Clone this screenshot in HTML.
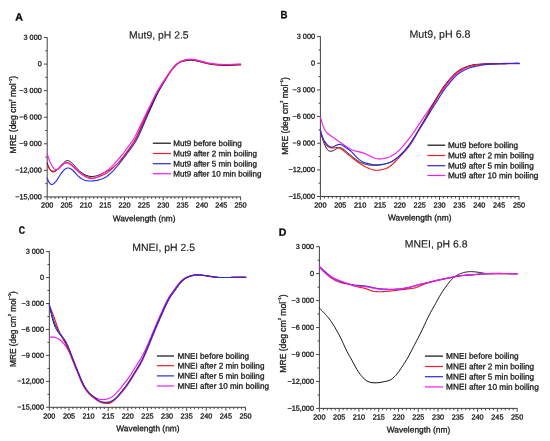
<!DOCTYPE html>
<html lang="en"><head><meta charset="utf-8"><title>CD spectra</title>
<style>html,body{margin:0;padding:0;background:#fff}svg{display:block}</style></head>
<body>
<svg width="550" height="441" viewBox="0 0 550 441" font-family="'Liberation Sans', sans-serif">
<rect width="550" height="441" fill="#ffffff"/>
<style>text{stroke:#1a1a1a;stroke-width:0.3px;stroke-linejoin:round}</style>
<g><path d="M47.20 37.24 V196.90 H240.90" fill="none" stroke="#383838" stroke-width="0.95"/>
<path d="M47.20 37.54 h-3.4 M47.20 50.82 h-1.9 M47.20 64.10 h-3.4 M47.20 77.38 h-1.9 M47.20 90.66 h-3.4 M47.20 103.94 h-1.9 M47.20 117.22 h-3.4 M47.20 130.50 h-1.9 M47.20 143.78 h-3.4 M47.20 157.06 h-1.9 M47.20 170.34 h-3.4 M47.20 183.62 h-1.9 M47.20 196.90 h-3.4 M47.20 196.90 v3.4 M51.07 196.90 v1.9 M54.94 196.90 v1.9 M58.80 196.90 v1.9 M62.67 196.90 v1.9 M66.54 196.90 v3.4 M70.41 196.90 v1.9 M74.28 196.90 v1.9 M78.14 196.90 v1.9 M82.01 196.90 v1.9 M85.88 196.90 v3.4 M89.75 196.90 v1.9 M93.62 196.90 v1.9 M97.48 196.90 v1.9 M101.35 196.90 v1.9 M105.22 196.90 v3.4 M109.09 196.90 v1.9 M112.96 196.90 v1.9 M116.82 196.90 v1.9 M120.69 196.90 v1.9 M124.56 196.90 v3.4 M128.43 196.90 v1.9 M132.30 196.90 v1.9 M136.16 196.90 v1.9 M140.03 196.90 v1.9 M143.90 196.90 v3.4 M147.77 196.90 v1.9 M151.64 196.90 v1.9 M155.50 196.90 v1.9 M159.37 196.90 v1.9 M163.24 196.90 v3.4 M167.11 196.90 v1.9 M170.98 196.90 v1.9 M174.84 196.90 v1.9 M178.71 196.90 v1.9 M182.58 196.90 v3.4 M186.45 196.90 v1.9 M190.32 196.90 v1.9 M194.18 196.90 v1.9 M198.05 196.90 v1.9 M201.92 196.90 v3.4 M205.79 196.90 v1.9 M209.66 196.90 v1.9 M213.52 196.90 v1.9 M217.39 196.90 v1.9 M221.26 196.90 v3.4 M225.13 196.90 v1.9 M229.00 196.90 v1.9 M232.86 196.90 v1.9 M236.73 196.90 v1.9 M240.60 196.90 v3.4 " fill="none" stroke="#383838" stroke-width="0.9"/>
<text transform="translate(41.80 39.79) rotate(0.05)" font-size="7.3" text-anchor="end" fill="#1a1a1a">3 000</text>
<text transform="translate(41.80 66.35) rotate(0.05)" font-size="7.3" text-anchor="end" fill="#1a1a1a">0</text>
<text transform="translate(41.80 92.91) rotate(0.05)" font-size="7.3" text-anchor="end" fill="#1a1a1a">−3 000</text>
<text transform="translate(41.80 119.47) rotate(0.05)" font-size="7.3" text-anchor="end" fill="#1a1a1a">−6 000</text>
<text transform="translate(41.80 146.03) rotate(0.05)" font-size="7.3" text-anchor="end" fill="#1a1a1a">−9 000</text>
<text transform="translate(41.80 172.59) rotate(0.05)" font-size="7.3" text-anchor="end" fill="#1a1a1a">−12,000</text>
<text transform="translate(41.80 199.15) rotate(0.05)" font-size="7.3" text-anchor="end" fill="#1a1a1a">−15,000</text>
<text transform="translate(47.20 207.60) rotate(0.05)" font-size="7.3" text-anchor="middle" fill="#1a1a1a">200</text>
<text transform="translate(66.54 207.60) rotate(0.05)" font-size="7.3" text-anchor="middle" fill="#1a1a1a">205</text>
<text transform="translate(85.88 207.60) rotate(0.05)" font-size="7.3" text-anchor="middle" fill="#1a1a1a">210</text>
<text transform="translate(105.22 207.60) rotate(0.05)" font-size="7.3" text-anchor="middle" fill="#1a1a1a">215</text>
<text transform="translate(124.56 207.60) rotate(0.05)" font-size="7.3" text-anchor="middle" fill="#1a1a1a">220</text>
<text transform="translate(143.90 207.60) rotate(0.05)" font-size="7.3" text-anchor="middle" fill="#1a1a1a">225</text>
<text transform="translate(163.24 207.60) rotate(0.05)" font-size="7.3" text-anchor="middle" fill="#1a1a1a">230</text>
<text transform="translate(182.58 207.60) rotate(0.05)" font-size="7.3" text-anchor="middle" fill="#1a1a1a">235</text>
<text transform="translate(201.92 207.60) rotate(0.05)" font-size="7.3" text-anchor="middle" fill="#1a1a1a">240</text>
<text transform="translate(221.26 207.60) rotate(0.05)" font-size="7.3" text-anchor="middle" fill="#1a1a1a">245</text>
<text transform="translate(240.60 207.60) rotate(0.05)" font-size="7.3" text-anchor="middle" fill="#1a1a1a">250</text>
<text transform="translate(144.10 221.20) rotate(0.05)" font-size="8.3" text-anchor="middle" fill="#1a1a1a">Wavelength (nm)</text>
<text transform="translate(16.4 114.7) rotate(-90)" font-size="8.5" text-anchor="middle" fill="#1a1a1a">MRE (deg cm<tspan font-size="3.9" dy="-4.9">2</tspan><tspan dy="4.9"> mol</tspan><tspan font-size="3.9" dy="-4.9">−1</tspan><tspan dy="4.9">)</tspan></text>
<text transform="translate(129.10 38.50) rotate(0.05)" font-size="10.4" fill="#1a1a1a" style="stroke-width:0.14px">Mut9, pH 2.5</text>
<text transform="translate(15.2 20.5) rotate(0.05) scale(1.0 1)" font-size="10.6" font-weight="bold" fill="#000">A</text>
<path d="M47.20 178.00 L48.17 180.39 L49.14 182.40 L50.12 183.71 L51.09 184.36 L52.06 184.48 L53.03 184.15 L54.00 183.46 L54.97 182.50 L55.95 181.31 L56.92 179.97 L57.89 178.51 L58.86 177.00 L59.83 175.48 L60.81 174.01 L61.78 172.62 L62.75 171.36 L63.72 170.27 L64.69 169.37 L65.67 168.68 L66.64 168.22 L67.61 167.99 L68.58 168.00 L69.55 168.23 L70.52 168.67 L71.50 169.30 L72.47 170.09 L73.44 171.01 L74.41 172.02 L75.38 173.07 L76.36 174.12 L77.33 175.13 L78.30 176.08 L79.27 176.95 L80.24 177.74 L81.22 178.44 L82.19 179.06 L83.16 179.58 L84.13 180.00 L85.10 180.33 L86.07 180.59 L87.05 180.77 L88.02 180.89 L88.99 180.97 L89.96 181.00 L90.93 181.00 L91.91 180.97 L92.88 180.90 L93.85 180.81 L94.82 180.69 L95.79 180.53 L96.76 180.35 L97.74 180.14 L98.71 179.89 L99.68 179.62 L100.65 179.32 L101.62 178.99 L102.60 178.62 L103.57 178.21 L104.54 177.76 L105.51 177.24 L106.48 176.65 L107.46 175.98 L108.43 175.22 L109.40 174.40 L110.37 173.51 L111.34 172.58 L112.31 171.60 L113.29 170.59 L114.26 169.54 L115.23 168.47 L116.20 167.38 L117.17 166.25 L118.15 165.09 L119.12 163.90 L120.09 162.68 L121.06 161.44 L122.03 160.18 L123.01 158.91 L123.98 157.63 L124.95 156.34 L125.92 155.05 L126.89 153.76 L127.86 152.46 L128.84 151.16 L129.81 149.86 L130.78 148.55 L131.75 147.24 L132.72 145.88 L133.70 144.47 L134.67 142.99 L135.64 141.41 L136.61 139.72 L137.58 137.89 L138.55 135.92 L139.53 133.84 L140.50 131.68 L141.47 129.46 L142.44 127.21 L143.41 124.96 L144.39 122.70 L145.36 120.45 L146.33 118.21 L147.30 115.99 L148.27 113.79 L149.25 111.61 L150.22 109.45 L151.19 107.30 L152.16 105.15 L153.13 103.00 L154.10 100.84 L155.08 98.69 L156.05 96.57 L157.02 94.53 L157.99 92.57 L158.96 90.74 L159.94 89.03 L160.91 87.40 L161.88 85.79 L162.85 84.16 L163.82 82.52 L164.79 80.88 L165.77 79.24 L166.74 77.62 L167.71 76.04 L168.68 74.49 L169.65 72.99 L170.63 71.55 L171.60 70.17 L172.57 68.87 L173.54 67.65 L174.51 66.52 L175.49 65.48 L176.46 64.55 L177.43 63.72 L178.40 63.00 L179.37 62.39 L180.34 61.89 L181.32 61.46 L182.29 61.11 L183.26 60.81 L184.23 60.55 L185.20 60.32 L186.18 60.12 L187.15 59.95 L188.12 59.82 L189.09 59.73 L190.06 59.69 L191.04 59.69 L192.01 59.74 L192.98 59.82 L193.95 59.94 L194.92 60.10 L195.89 60.28 L196.87 60.48 L197.84 60.71 L198.81 60.96 L199.78 61.21 L200.75 61.48 L201.73 61.74 L202.70 62.01 L203.67 62.27 L204.64 62.53 L205.61 62.77 L206.58 63.00 L207.56 63.22 L208.53 63.42 L209.50 63.61 L210.47 63.78 L211.44 63.93 L212.42 64.06 L213.39 64.18 L214.36 64.29 L215.33 64.38 L216.30 64.46 L217.28 64.53 L218.25 64.60 L219.22 64.66 L220.19 64.72 L221.16 64.78 L222.13 64.83 L223.11 64.87 L224.08 64.90 L225.05 64.93 L226.02 64.94 L226.99 64.95 L227.97 64.94 L228.94 64.92 L229.91 64.89 L230.88 64.85 L231.85 64.80 L232.83 64.75 L233.80 64.69 L234.77 64.63 L235.74 64.58 L236.71 64.54 L237.68 64.50 L238.66 64.46 L239.63 64.43 L240.60 64.40" fill="none" stroke="#2a2adf" stroke-width="1.15" stroke-linejoin="round" stroke-linecap="round"/>
<path d="M47.20 163.00 L48.17 165.50 L49.14 167.77 L50.12 169.59 L51.09 170.87 L52.06 171.66 L53.03 171.99 L54.00 171.92 L54.97 171.51 L55.95 170.86 L56.92 170.02 L57.89 169.07 L58.86 168.02 L59.83 166.92 L60.81 165.80 L61.78 164.68 L62.75 163.61 L63.72 162.63 L64.69 161.79 L65.67 161.13 L66.64 160.72 L67.61 160.58 L68.58 160.74 L69.55 161.15 L70.52 161.77 L71.50 162.55 L72.47 163.47 L73.44 164.47 L74.41 165.53 L75.38 166.62 L76.36 167.71 L77.33 168.78 L78.30 169.80 L79.27 170.74 L80.24 171.60 L81.22 172.38 L82.19 173.09 L83.16 173.73 L84.13 174.30 L85.10 174.81 L86.07 175.25 L87.05 175.63 L88.02 175.94 L88.99 176.18 L89.96 176.36 L90.93 176.47 L91.91 176.50 L92.88 176.46 L93.85 176.36 L94.82 176.19 L95.79 175.97 L96.76 175.71 L97.74 175.40 L98.71 175.05 L99.68 174.67 L100.65 174.28 L101.62 173.86 L102.60 173.43 L103.57 172.99 L104.54 172.53 L105.51 172.06 L106.48 171.57 L107.46 171.06 L108.43 170.53 L109.40 169.98 L110.37 169.39 L111.34 168.76 L112.31 168.08 L113.29 167.35 L114.26 166.56 L115.23 165.71 L116.20 164.81 L117.17 163.86 L118.15 162.86 L119.12 161.82 L120.09 160.72 L121.06 159.59 L122.03 158.41 L123.01 157.19 L123.98 155.93 L124.95 154.63 L125.92 153.31 L126.89 151.96 L127.86 150.60 L128.84 149.23 L129.81 147.87 L130.78 146.50 L131.75 145.12 L132.72 143.70 L133.70 142.21 L134.67 140.65 L135.64 138.98 L136.61 137.18 L137.58 135.28 L138.55 133.28 L139.53 131.22 L140.50 129.11 L141.47 126.97 L142.44 124.84 L143.41 122.70 L144.39 120.57 L145.36 118.46 L146.33 116.36 L147.30 114.28 L148.27 112.22 L149.25 110.18 L150.22 108.15 L151.19 106.11 L152.16 104.06 L153.13 101.99 L154.10 99.90 L155.08 97.82 L156.05 95.78 L157.02 93.81 L157.99 91.93 L158.96 90.17 L159.94 88.51 L160.91 86.91 L161.88 85.32 L162.85 83.71 L163.82 82.08 L164.79 80.46 L165.77 78.85 L166.74 77.26 L167.71 75.71 L168.68 74.20 L169.65 72.74 L170.63 71.34 L171.60 69.99 L172.57 68.71 L173.54 67.51 L174.51 66.38 L175.49 65.36 L176.46 64.43 L177.43 63.63 L178.40 62.97 L179.37 62.44 L180.34 62.03 L181.32 61.71 L182.29 61.46 L183.26 61.25 L184.23 61.06 L185.20 60.86 L186.18 60.67 L187.15 60.50 L188.12 60.35 L189.09 60.24 L190.06 60.18 L191.04 60.18 L192.01 60.22 L192.98 60.31 L193.95 60.43 L194.92 60.59 L195.89 60.78 L196.87 60.99 L197.84 61.22 L198.81 61.46 L199.78 61.72 L200.75 61.98 L201.73 62.24 L202.70 62.51 L203.67 62.77 L204.64 63.03 L205.61 63.27 L206.58 63.50 L207.56 63.72 L208.53 63.92 L209.50 64.11 L210.47 64.28 L211.44 64.43 L212.42 64.56 L213.39 64.68 L214.36 64.79 L215.33 64.88 L216.30 64.96 L217.28 65.03 L218.25 65.10 L219.22 65.16 L220.19 65.22 L221.16 65.28 L222.13 65.33 L223.11 65.37 L224.08 65.40 L225.05 65.43 L226.02 65.44 L226.99 65.45 L227.97 65.44 L228.94 65.42 L229.91 65.39 L230.88 65.35 L231.85 65.30 L232.83 65.25 L233.80 65.19 L234.77 65.13 L235.74 65.08 L236.71 65.04 L237.68 65.00 L238.66 64.96 L239.63 64.93 L240.60 64.90" fill="none" stroke="#111111" stroke-width="1.0" stroke-linejoin="round" stroke-linecap="round"/>
<path d="M47.20 165.00 L48.17 166.86 L49.14 168.50 L50.12 169.71 L51.09 170.48 L52.06 170.88 L53.03 171.01 L54.00 170.95 L54.97 170.75 L55.95 170.40 L56.92 169.89 L57.89 169.21 L58.86 168.37 L59.83 167.45 L60.81 166.48 L61.78 165.53 L62.75 164.65 L63.72 163.88 L64.69 163.25 L65.67 162.81 L66.64 162.58 L67.61 162.60 L68.58 162.84 L69.55 163.27 L70.52 163.86 L71.50 164.58 L72.47 165.41 L73.44 166.31 L74.41 167.27 L75.38 168.25 L76.36 169.23 L77.33 170.20 L78.30 171.12 L79.27 171.97 L80.24 172.76 L81.22 173.48 L82.19 174.14 L83.16 174.74 L84.13 175.29 L85.10 175.80 L86.07 176.27 L87.05 176.70 L88.02 177.08 L88.99 177.40 L89.96 177.66 L90.93 177.85 L91.91 177.97 L92.88 178.00 L93.85 177.95 L94.82 177.82 L95.79 177.62 L96.76 177.36 L97.74 177.06 L98.71 176.72 L99.68 176.35 L100.65 175.96 L101.62 175.57 L102.60 175.17 L103.57 174.76 L104.54 174.30 L105.51 173.80 L106.48 173.23 L107.46 172.58 L108.43 171.85 L109.40 171.06 L110.37 170.21 L111.34 169.34 L112.31 168.45 L113.29 167.57 L114.26 166.68 L115.23 165.79 L116.20 164.88 L117.17 163.94 L118.15 162.96 L119.12 161.93 L120.09 160.84 L121.06 159.70 L122.03 158.52 L123.01 157.29 L123.98 156.03 L124.95 154.73 L125.92 153.41 L126.89 152.06 L127.86 150.70 L128.84 149.33 L129.81 147.97 L130.78 146.59 L131.75 145.19 L132.72 143.73 L133.70 142.18 L134.67 140.52 L135.64 138.72 L136.61 136.75 L137.58 134.66 L138.55 132.46 L139.53 130.21 L140.50 127.93 L141.47 125.67 L142.44 123.43 L143.41 121.21 L144.39 119.01 L145.36 116.83 L146.33 114.67 L147.30 112.52 L148.27 110.39 L149.25 108.28 L150.22 106.18 L151.19 104.09 L152.16 102.01 L153.13 99.95 L154.10 97.92 L155.08 95.94 L156.05 94.04 L157.02 92.23 L157.99 90.52 L158.96 88.91 L159.94 87.36 L160.91 85.83 L161.88 84.29 L162.85 82.73 L163.82 81.17 L164.79 79.61 L165.77 78.07 L166.74 76.56 L167.71 75.08 L168.68 73.64 L169.65 72.25 L170.63 70.91 L171.60 69.63 L172.57 68.42 L173.54 67.27 L174.51 66.21 L175.49 65.24 L176.46 64.36 L177.43 63.58 L178.40 62.90 L179.37 62.34 L180.34 61.87 L181.32 61.48 L182.29 61.16 L183.26 60.88 L184.23 60.64 L185.20 60.42 L186.18 60.22 L187.15 60.05 L188.12 59.92 L189.09 59.83 L190.06 59.79 L191.04 59.79 L192.01 59.84 L192.98 59.92 L193.95 60.04 L194.92 60.19 L195.89 60.38 L196.87 60.59 L197.84 60.81 L198.81 61.06 L199.78 61.31 L200.75 61.58 L201.73 61.84 L202.70 62.11 L203.67 62.37 L204.64 62.63 L205.61 62.87 L206.58 63.10 L207.56 63.32 L208.53 63.52 L209.50 63.71 L210.47 63.88 L211.44 64.03 L212.42 64.16 L213.39 64.28 L214.36 64.39 L215.33 64.48 L216.30 64.56 L217.28 64.63 L218.25 64.70 L219.22 64.76 L220.19 64.82 L221.16 64.88 L222.13 64.93 L223.11 64.97 L224.08 65.00 L225.05 65.03 L226.02 65.04 L226.99 65.05 L227.97 65.04 L228.94 65.02 L229.91 64.99 L230.88 64.95 L231.85 64.90 L232.83 64.85 L233.80 64.79 L234.77 64.73 L235.74 64.68 L236.71 64.64 L237.68 64.60 L238.66 64.56 L239.63 64.53 L240.60 64.50" fill="none" stroke="#ee1c25" stroke-width="1.15" stroke-linejoin="round" stroke-linecap="round"/>
<path d="M47.20 154.00 L48.17 156.84 L49.14 159.55 L50.12 162.02 L51.09 164.16 L52.06 165.98 L53.03 167.47 L54.00 168.60 L54.97 169.34 L55.95 169.63 L56.92 169.48 L57.89 168.99 L58.86 168.25 L59.83 167.37 L60.81 166.45 L61.78 165.53 L62.75 164.67 L63.72 163.93 L64.69 163.36 L65.67 163.01 L66.64 162.92 L67.61 163.08 L68.58 163.44 L69.55 163.97 L70.52 164.64 L71.50 165.40 L72.47 166.22 L73.44 167.09 L74.41 167.99 L75.38 168.91 L76.36 169.83 L77.33 170.74 L78.30 171.62 L79.27 172.47 L80.24 173.27 L81.22 174.03 L82.19 174.73 L83.16 175.39 L84.13 175.99 L85.10 176.54 L86.07 177.04 L87.05 177.47 L88.02 177.83 L88.99 178.13 L89.96 178.35 L90.93 178.48 L91.91 178.53 L92.88 178.48 L93.85 178.33 L94.82 178.08 L95.79 177.73 L96.76 177.30 L97.74 176.80 L98.71 176.24 L99.68 175.65 L100.65 175.02 L101.62 174.39 L102.60 173.74 L103.57 173.09 L104.54 172.41 L105.51 171.72 L106.48 171.00 L107.46 170.24 L108.43 169.45 L109.40 168.62 L110.37 167.75 L111.34 166.84 L112.31 165.89 L113.29 164.89 L114.26 163.85 L115.23 162.79 L116.20 161.69 L117.17 160.59 L118.15 159.48 L119.12 158.37 L120.09 157.25 L121.06 156.12 L122.03 154.97 L123.01 153.77 L123.98 152.53 L124.95 151.23 L125.92 149.89 L126.89 148.53 L127.86 147.16 L128.84 145.80 L129.81 144.47 L130.78 143.16 L131.75 141.82 L132.72 140.41 L133.70 138.89 L134.67 137.23 L135.64 135.42 L136.61 133.51 L137.58 131.51 L138.55 129.47 L139.53 127.40 L140.50 125.34 L141.47 123.29 L142.44 121.25 L143.41 119.22 L144.39 117.21 L145.36 115.21 L146.33 113.23 L147.30 111.27 L148.27 109.31 L149.25 107.35 L150.22 105.39 L151.19 103.42 L152.16 101.45 L153.13 99.47 L154.10 97.50 L155.08 95.58 L156.05 93.71 L157.02 91.93 L157.99 90.24 L158.96 88.64 L159.94 87.11 L160.91 85.61 L161.88 84.13 L162.85 82.66 L163.82 81.20 L164.79 79.76 L165.77 78.33 L166.74 76.91 L167.71 75.51 L168.68 74.13 L169.65 72.77 L170.63 71.46 L171.60 70.19 L172.57 68.97 L173.54 67.82 L174.51 66.74 L175.49 65.73 L176.46 64.79 L177.43 63.94 L178.40 63.16 L179.37 62.47 L180.34 61.87 L181.32 61.34 L182.29 60.88 L183.26 60.50 L184.23 60.17 L185.20 59.90 L186.18 59.68 L187.15 59.51 L188.12 59.40 L189.09 59.32 L190.06 59.29 L191.04 59.30 L192.01 59.35 L192.98 59.43 L193.95 59.55 L194.92 59.70 L195.89 59.88 L196.87 60.08 L197.84 60.31 L198.81 60.56 L199.78 60.81 L200.75 61.08 L201.73 61.34 L202.70 61.61 L203.67 61.87 L204.64 62.13 L205.61 62.37 L206.58 62.61 L207.56 62.82 L208.53 63.02 L209.50 63.21 L210.47 63.38 L211.44 63.53 L212.42 63.66 L213.39 63.78 L214.36 63.89 L215.33 63.98 L216.30 64.06 L217.28 64.13 L218.25 64.20 L219.22 64.26 L220.19 64.32 L221.16 64.38 L222.13 64.43 L223.11 64.47 L224.08 64.50 L225.05 64.53 L226.02 64.54 L226.99 64.55 L227.97 64.54 L228.94 64.52 L229.91 64.49 L230.88 64.45 L231.85 64.40 L232.83 64.35 L233.80 64.29 L234.77 64.23 L235.74 64.18 L236.71 64.14 L237.68 64.10 L238.66 64.06 L239.63 64.03 L240.60 64.00" fill="none" stroke="#f01cf0" stroke-width="1.15" stroke-linejoin="round" stroke-linecap="round"/>
<path d="M152.8 143.2 H170.9" stroke="#111111" stroke-width="1.2"/>
<text transform="translate(173.30 145.90) rotate(0.05)" font-size="8.05" fill="#1a1a1a">Mut9 before boiling</text>
<path d="M152.8 153.5 H170.9" stroke="#ee1c25" stroke-width="1.2"/>
<text transform="translate(173.30 156.20) rotate(0.05)" font-size="8.05" fill="#1a1a1a">Mut9 after 2 min boiling</text>
<path d="M152.8 163.7 H170.9" stroke="#2a2adf" stroke-width="1.2"/>
<text transform="translate(173.30 166.40) rotate(0.05)" font-size="8.05" fill="#1a1a1a">Mut9 after 5 min boiling</text>
<path d="M152.8 173.7 H170.9" stroke="#f01cf0" stroke-width="1.2"/>
<text transform="translate(173.30 176.40) rotate(0.05)" font-size="8.05" fill="#1a1a1a">Mut9 after 10 min boiling</text></g>
<g><path d="M320.40 36.30 V196.50 H519.30" fill="none" stroke="#383838" stroke-width="0.95"/>
<path d="M320.40 36.60 h-3.4 M320.40 49.92 h-1.9 M320.40 63.25 h-3.4 M320.40 76.58 h-1.9 M320.40 89.90 h-3.4 M320.40 103.23 h-1.9 M320.40 116.55 h-3.4 M320.40 129.87 h-1.9 M320.40 143.20 h-3.4 M320.40 156.52 h-1.9 M320.40 169.85 h-3.4 M320.40 183.17 h-1.9 M320.40 196.50 h-3.4 M320.40 196.50 v3.4 M324.37 196.50 v1.9 M328.34 196.50 v1.9 M332.32 196.50 v1.9 M336.29 196.50 v1.9 M340.26 196.50 v3.4 M344.23 196.50 v1.9 M348.20 196.50 v1.9 M352.18 196.50 v1.9 M356.15 196.50 v1.9 M360.12 196.50 v3.4 M364.09 196.50 v1.9 M368.06 196.50 v1.9 M372.04 196.50 v1.9 M376.01 196.50 v1.9 M379.98 196.50 v3.4 M383.95 196.50 v1.9 M387.92 196.50 v1.9 M391.90 196.50 v1.9 M395.87 196.50 v1.9 M399.84 196.50 v3.4 M403.81 196.50 v1.9 M407.78 196.50 v1.9 M411.76 196.50 v1.9 M415.73 196.50 v1.9 M419.70 196.50 v3.4 M423.67 196.50 v1.9 M427.64 196.50 v1.9 M431.62 196.50 v1.9 M435.59 196.50 v1.9 M439.56 196.50 v3.4 M443.53 196.50 v1.9 M447.50 196.50 v1.9 M451.48 196.50 v1.9 M455.45 196.50 v1.9 M459.42 196.50 v3.4 M463.39 196.50 v1.9 M467.36 196.50 v1.9 M471.34 196.50 v1.9 M475.31 196.50 v1.9 M479.28 196.50 v3.4 M483.25 196.50 v1.9 M487.22 196.50 v1.9 M491.20 196.50 v1.9 M495.17 196.50 v1.9 M499.14 196.50 v3.4 M503.11 196.50 v1.9 M507.08 196.50 v1.9 M511.06 196.50 v1.9 M515.03 196.50 v1.9 M519.00 196.50 v3.4 " fill="none" stroke="#383838" stroke-width="0.9"/>
<text transform="translate(315.00 38.85) rotate(0.05)" font-size="7.3" text-anchor="end" fill="#1a1a1a">3 000</text>
<text transform="translate(315.00 65.50) rotate(0.05)" font-size="7.3" text-anchor="end" fill="#1a1a1a">0</text>
<text transform="translate(315.00 92.15) rotate(0.05)" font-size="7.3" text-anchor="end" fill="#1a1a1a">−3 000</text>
<text transform="translate(315.00 118.80) rotate(0.05)" font-size="7.3" text-anchor="end" fill="#1a1a1a">−6 000</text>
<text transform="translate(315.00 145.45) rotate(0.05)" font-size="7.3" text-anchor="end" fill="#1a1a1a">−9 000</text>
<text transform="translate(315.00 172.10) rotate(0.05)" font-size="7.3" text-anchor="end" fill="#1a1a1a">−12,000</text>
<text transform="translate(315.00 198.75) rotate(0.05)" font-size="7.3" text-anchor="end" fill="#1a1a1a">−15,000</text>
<text transform="translate(320.40 207.50) rotate(0.05)" font-size="7.3" text-anchor="middle" fill="#1a1a1a">200</text>
<text transform="translate(340.26 207.50) rotate(0.05)" font-size="7.3" text-anchor="middle" fill="#1a1a1a">205</text>
<text transform="translate(360.12 207.50) rotate(0.05)" font-size="7.3" text-anchor="middle" fill="#1a1a1a">210</text>
<text transform="translate(379.98 207.50) rotate(0.05)" font-size="7.3" text-anchor="middle" fill="#1a1a1a">215</text>
<text transform="translate(399.84 207.50) rotate(0.05)" font-size="7.3" text-anchor="middle" fill="#1a1a1a">220</text>
<text transform="translate(419.70 207.50) rotate(0.05)" font-size="7.3" text-anchor="middle" fill="#1a1a1a">225</text>
<text transform="translate(439.56 207.50) rotate(0.05)" font-size="7.3" text-anchor="middle" fill="#1a1a1a">230</text>
<text transform="translate(459.42 207.50) rotate(0.05)" font-size="7.3" text-anchor="middle" fill="#1a1a1a">235</text>
<text transform="translate(479.28 207.50) rotate(0.05)" font-size="7.3" text-anchor="middle" fill="#1a1a1a">240</text>
<text transform="translate(499.14 207.50) rotate(0.05)" font-size="7.3" text-anchor="middle" fill="#1a1a1a">245</text>
<text transform="translate(519.00 207.50) rotate(0.05)" font-size="7.3" text-anchor="middle" fill="#1a1a1a">250</text>
<text transform="translate(419.70 220.40) rotate(0.05)" font-size="8.4" text-anchor="middle" fill="#1a1a1a">Wavelength (nm)</text>
<text transform="translate(288.3 116.0) rotate(-90)" font-size="8.5" text-anchor="middle" fill="#1a1a1a">MRE (deg cm<tspan font-size="3.9" dy="-4.9">2</tspan><tspan dy="4.9"> mol</tspan><tspan font-size="3.9" dy="-4.9">−1</tspan><tspan dy="4.9">)</tspan></text>
<text transform="translate(409.50 37.80) rotate(0.05)" font-size="10.65" fill="#1a1a1a" style="stroke-width:0.14px">Mut9, pH 6.8</text>
<text transform="translate(280.5 18.3) rotate(0.05) scale(0.91 1)" font-size="10.6" font-weight="bold" fill="#000">B</text>
<path d="M320.40 117.20 L321.40 120.66 L322.40 123.89 L323.39 126.68 L324.39 128.97 L325.39 130.78 L326.39 132.16 L327.39 133.20 L328.38 134.04 L329.38 134.78 L330.38 135.51 L331.38 136.23 L332.38 136.94 L333.37 137.65 L334.37 138.34 L335.37 139.04 L336.37 139.73 L337.37 140.41 L338.36 141.10 L339.36 141.79 L340.36 142.47 L341.36 143.16 L342.36 143.85 L343.35 144.55 L344.35 145.25 L345.35 145.95 L346.35 146.64 L347.35 147.31 L348.34 147.94 L349.34 148.54 L350.34 149.07 L351.34 149.55 L352.34 149.95 L353.33 150.30 L354.33 150.61 L355.33 150.89 L356.33 151.14 L357.33 151.38 L358.32 151.61 L359.32 151.86 L360.32 152.11 L361.32 152.38 L362.32 152.67 L363.31 153.00 L364.31 153.37 L365.31 153.77 L366.31 154.22 L367.31 154.69 L368.30 155.18 L369.30 155.67 L370.30 156.16 L371.30 156.64 L372.30 157.09 L373.29 157.51 L374.29 157.89 L375.29 158.22 L376.29 158.49 L377.29 158.70 L378.28 158.83 L379.28 158.89 L380.28 158.88 L381.28 158.81 L382.28 158.70 L383.27 158.56 L384.27 158.38 L385.27 158.17 L386.27 157.93 L387.27 157.64 L388.26 157.31 L389.26 156.92 L390.26 156.48 L391.26 155.98 L392.26 155.43 L393.25 154.82 L394.25 154.15 L395.25 153.44 L396.25 152.68 L397.25 151.86 L398.24 151.00 L399.24 150.08 L400.24 149.10 L401.24 148.07 L402.24 146.97 L403.23 145.82 L404.23 144.63 L405.23 143.41 L406.23 142.17 L407.23 140.92 L408.22 139.66 L409.22 138.39 L410.22 137.11 L411.22 135.79 L412.22 134.43 L413.21 133.03 L414.21 131.60 L415.21 130.13 L416.21 128.64 L417.21 127.13 L418.20 125.61 L419.20 124.10 L420.20 122.59 L421.20 121.10 L422.19 119.61 L423.19 118.13 L424.19 116.65 L425.19 115.18 L426.19 113.70 L427.18 112.22 L428.18 110.73 L429.18 109.24 L430.18 107.73 L431.18 106.22 L432.17 104.71 L433.17 103.20 L434.17 101.70 L435.17 100.23 L436.17 98.78 L437.16 97.37 L438.16 95.98 L439.16 94.62 L440.16 93.27 L441.16 91.93 L442.15 90.60 L443.15 89.26 L444.15 87.93 L445.15 86.60 L446.15 85.28 L447.14 83.98 L448.14 82.70 L449.14 81.45 L450.14 80.25 L451.14 79.08 L452.13 77.96 L453.13 76.88 L454.13 75.87 L455.13 74.91 L456.13 74.00 L457.12 73.16 L458.12 72.36 L459.12 71.62 L460.12 70.92 L461.12 70.27 L462.11 69.66 L463.11 69.10 L464.11 68.57 L465.11 68.08 L466.11 67.63 L467.10 67.21 L468.10 66.82 L469.10 66.47 L470.10 66.15 L471.10 65.87 L472.09 65.63 L473.09 65.42 L474.09 65.24 L475.09 65.07 L476.09 64.91 L477.08 64.76 L478.08 64.60 L479.08 64.46 L480.08 64.32 L481.08 64.20 L482.07 64.09 L483.07 64.01 L484.07 63.94 L485.07 63.89 L486.07 63.85 L487.06 63.82 L488.06 63.79 L489.06 63.76 L490.06 63.73 L491.06 63.70 L492.05 63.67 L493.05 63.64 L494.05 63.61 L495.05 63.59 L496.05 63.56 L497.04 63.54 L498.04 63.52 L499.04 63.50 L500.04 63.48 L501.04 63.47 L502.03 63.45 L503.03 63.44 L504.03 63.43 L505.03 63.42 L506.03 63.42 L507.02 63.41 L508.02 63.41 L509.02 63.40 L510.02 63.40 L511.02 63.40 L512.01 63.40 L513.01 63.40 L514.01 63.40 L515.01 63.40 L516.01 63.40 L517.00 63.40 L518.00 63.40 L519.00 63.40" fill="none" stroke="#f01cf0" stroke-width="1.15" stroke-linejoin="round" stroke-linecap="round"/>
<path d="M320.40 130.80 L321.40 134.73 L322.40 138.32 L323.39 141.34 L324.39 143.90 L325.39 146.18 L326.39 148.12 L327.39 149.61 L328.38 150.55 L329.38 151.06 L330.38 151.24 L331.38 151.20 L332.38 150.97 L333.37 150.58 L334.37 150.07 L335.37 149.48 L336.37 148.88 L337.37 148.33 L338.36 147.92 L339.36 147.71 L340.36 147.77 L341.36 148.08 L342.36 148.58 L343.35 149.24 L344.35 149.99 L345.35 150.78 L346.35 151.59 L347.35 152.41 L348.34 153.24 L349.34 154.07 L350.34 154.91 L351.34 155.75 L352.34 156.59 L353.33 157.42 L354.33 158.22 L355.33 159.00 L356.33 159.74 L357.33 160.43 L358.32 161.08 L359.32 161.68 L360.32 162.23 L361.32 162.72 L362.32 163.17 L363.31 163.55 L364.31 163.89 L365.31 164.19 L366.31 164.44 L367.31 164.67 L368.30 164.85 L369.30 165.02 L370.30 165.15 L371.30 165.25 L372.30 165.33 L373.29 165.38 L374.29 165.40 L375.29 165.40 L376.29 165.37 L377.29 165.31 L378.28 165.23 L379.28 165.12 L380.28 164.98 L381.28 164.83 L382.28 164.65 L383.27 164.45 L384.27 164.22 L385.27 163.96 L386.27 163.68 L387.27 163.35 L388.26 162.99 L389.26 162.59 L390.26 162.14 L391.26 161.65 L392.26 161.10 L393.25 160.49 L394.25 159.83 L395.25 159.10 L396.25 158.31 L397.25 157.48 L398.24 156.60 L399.24 155.68 L400.24 154.74 L401.24 153.76 L402.24 152.77 L403.23 151.74 L404.23 150.69 L405.23 149.59 L406.23 148.43 L407.23 147.22 L408.22 145.94 L409.22 144.61 L410.22 143.21 L411.22 141.77 L412.22 140.27 L413.21 138.73 L414.21 137.14 L415.21 135.49 L416.21 133.78 L417.21 132.04 L418.20 130.28 L419.20 128.56 L420.20 126.87 L421.20 125.21 L422.19 123.55 L423.19 121.88 L424.19 120.18 L425.19 118.44 L426.19 116.64 L427.18 114.80 L428.18 112.96 L429.18 111.12 L430.18 109.30 L431.18 107.52 L432.17 105.77 L433.17 104.03 L434.17 102.31 L435.17 100.57 L436.17 98.81 L437.16 97.05 L438.16 95.29 L439.16 93.56 L440.16 91.88 L441.16 90.27 L442.15 88.74 L443.15 87.30 L444.15 85.93 L445.15 84.62 L446.15 83.36 L447.14 82.12 L448.14 80.91 L449.14 79.71 L450.14 78.54 L451.14 77.40 L452.13 76.31 L453.13 75.27 L454.13 74.29 L455.13 73.37 L456.13 72.51 L457.12 71.72 L458.12 70.98 L459.12 70.31 L460.12 69.69 L461.12 69.13 L462.11 68.61 L463.11 68.14 L464.11 67.69 L465.11 67.28 L466.11 66.89 L467.10 66.53 L468.10 66.19 L469.10 65.88 L470.10 65.59 L471.10 65.33 L472.09 65.10 L473.09 64.89 L474.09 64.71 L475.09 64.56 L476.09 64.45 L477.08 64.36 L478.08 64.30 L479.08 64.26 L480.08 64.22 L481.08 64.19 L482.07 64.15 L483.07 64.09 L484.07 64.03 L485.07 63.97 L486.07 63.90 L487.06 63.84 L488.06 63.78 L489.06 63.74 L490.06 63.70 L491.06 63.67 L492.05 63.65 L493.05 63.63 L494.05 63.62 L495.05 63.61 L496.05 63.61 L497.04 63.61 L498.04 63.60 L499.04 63.60 L500.04 63.60 L501.04 63.59 L502.03 63.58 L503.03 63.58 L504.03 63.57 L505.03 63.56 L506.03 63.55 L507.02 63.54 L508.02 63.53 L509.02 63.52 L510.02 63.50 L511.02 63.49 L512.01 63.48 L513.01 63.47 L514.01 63.46 L515.01 63.45 L516.01 63.43 L517.00 63.42 L518.00 63.41 L519.00 63.40" fill="none" stroke="#111111" stroke-width="1.0" stroke-linejoin="round" stroke-linecap="round"/>
<path d="M320.40 130.80 L321.40 134.31 L322.40 137.50 L323.40 140.09 L324.40 142.14 L325.40 143.76 L326.40 145.04 L327.40 146.03 L328.40 146.77 L329.40 147.30 L330.39 147.65 L331.39 147.86 L332.39 147.93 L333.39 147.91 L334.39 147.84 L335.39 147.75 L336.39 147.68 L337.39 147.66 L338.39 147.74 L339.39 147.97 L340.39 148.39 L341.39 148.99 L342.39 149.74 L343.39 150.58 L344.39 151.46 L345.39 152.34 L346.39 153.18 L347.39 154.00 L348.39 154.80 L349.39 155.59 L350.38 156.37 L351.38 157.16 L352.38 157.95 L353.38 158.74 L354.38 159.52 L355.38 160.29 L356.38 161.04 L357.38 161.78 L358.38 162.48 L359.38 163.16 L360.38 163.82 L361.38 164.45 L362.38 165.05 L363.38 165.63 L364.38 166.19 L365.38 166.72 L366.38 167.22 L367.38 167.69 L368.38 168.14 L369.38 168.56 L370.37 168.94 L371.37 169.29 L372.37 169.60 L373.37 169.86 L374.37 170.07 L375.37 170.22 L376.37 170.29 L377.37 170.29 L378.37 170.22 L379.37 170.09 L380.37 169.91 L381.37 169.70 L382.37 169.46 L383.37 169.21 L384.37 168.94 L385.37 168.64 L386.37 168.29 L387.37 167.87 L388.37 167.37 L389.37 166.77 L390.36 166.06 L391.36 165.26 L392.36 164.38 L393.36 163.46 L394.36 162.49 L395.36 161.49 L396.36 160.46 L397.36 159.41 L398.36 158.34 L399.36 157.27 L400.36 156.19 L401.36 155.10 L402.36 154.00 L403.36 152.91 L404.36 151.83 L405.36 150.74 L406.36 149.64 L407.36 148.49 L408.36 147.27 L409.36 145.96 L410.35 144.54 L411.35 143.00 L412.35 141.38 L413.35 139.70 L414.35 138.00 L415.35 136.29 L416.35 134.56 L417.35 132.81 L418.35 131.06 L419.35 129.33 L420.35 127.63 L421.35 125.96 L422.35 124.30 L423.35 122.64 L424.35 120.95 L425.35 119.22 L426.35 117.43 L427.35 115.61 L428.35 113.76 L429.35 111.92 L430.34 110.08 L431.34 108.29 L432.34 106.52 L433.34 104.78 L434.34 103.05 L435.34 101.31 L436.34 99.56 L437.34 97.79 L438.34 96.03 L439.34 94.29 L440.34 92.58 L441.34 90.94 L442.34 89.37 L443.34 87.89 L444.34 86.49 L445.34 85.15 L446.34 83.87 L447.34 82.63 L448.34 81.40 L449.34 80.19 L450.33 79.00 L451.33 77.85 L452.33 76.74 L453.33 75.67 L454.33 74.67 L455.33 73.73 L456.33 72.86 L457.33 72.05 L458.33 71.30 L459.33 70.61 L460.33 69.99 L461.33 69.42 L462.33 68.90 L463.33 68.42 L464.33 67.98 L465.33 67.56 L466.33 67.17 L467.33 66.81 L468.33 66.47 L469.33 66.15 L470.32 65.86 L471.32 65.60 L472.32 65.36 L473.32 65.15 L474.32 64.97 L475.32 64.82 L476.32 64.70 L477.32 64.62 L478.32 64.55 L479.32 64.51 L480.32 64.47 L481.32 64.44 L482.32 64.40 L483.32 64.35 L484.32 64.29 L485.32 64.22 L486.32 64.15 L487.32 64.09 L488.32 64.03 L489.32 63.99 L490.31 63.95 L491.31 63.92 L492.31 63.90 L493.31 63.88 L494.31 63.87 L495.31 63.86 L496.31 63.86 L497.31 63.86 L498.31 63.85 L499.31 63.85 L500.31 63.85 L501.31 63.84 L502.31 63.83 L503.31 63.83 L504.31 63.82 L505.31 63.81 L506.31 63.80 L507.31 63.79 L508.31 63.78 L509.31 63.77 L510.30 63.75 L511.30 63.74 L512.30 63.73 L513.30 63.72 L514.30 63.71 L515.30 63.70 L516.30 63.68 L517.30 63.67 L518.30 63.66 L519.30 63.65" fill="none" stroke="#ee1c25" stroke-width="1.15" stroke-linejoin="round" stroke-linecap="round"/>
<path d="M320.40 130.30 L321.40 133.88 L322.40 136.99 L323.39 139.28 L324.39 140.96 L325.39 142.39 L326.39 143.72 L327.39 144.89 L328.38 145.83 L329.38 146.51 L330.38 146.94 L331.38 147.10 L332.38 147.03 L333.37 146.74 L334.37 146.32 L335.37 145.82 L336.37 145.32 L337.37 144.87 L338.36 144.54 L339.36 144.39 L340.36 144.45 L341.36 144.76 L342.36 145.25 L343.35 145.87 L344.35 146.55 L345.35 147.24 L346.35 147.91 L347.35 148.58 L348.34 149.27 L349.34 150.00 L350.34 150.80 L351.34 151.69 L352.34 152.66 L353.33 153.69 L354.33 154.74 L355.33 155.80 L356.33 156.83 L357.33 157.82 L358.32 158.75 L359.32 159.60 L360.32 160.38 L361.32 161.06 L362.32 161.65 L363.31 162.14 L364.31 162.54 L365.31 162.89 L366.31 163.18 L367.31 163.43 L368.30 163.67 L369.30 163.90 L370.30 164.11 L371.30 164.30 L372.30 164.47 L373.29 164.62 L374.29 164.73 L375.29 164.80 L376.29 164.83 L377.29 164.83 L378.28 164.79 L379.28 164.72 L380.28 164.62 L381.28 164.50 L382.28 164.36 L383.27 164.20 L384.27 164.01 L385.27 163.80 L386.27 163.55 L387.27 163.27 L388.26 162.96 L389.26 162.60 L390.26 162.20 L391.26 161.75 L392.26 161.25 L393.25 160.69 L394.25 160.07 L395.25 159.38 L396.25 158.65 L397.25 157.85 L398.24 157.01 L399.24 156.13 L400.24 155.21 L401.24 154.25 L402.24 153.27 L403.23 152.26 L404.23 151.21 L405.23 150.13 L406.23 148.99 L407.23 147.79 L408.22 146.54 L409.22 145.22 L410.22 143.85 L411.22 142.41 L412.22 140.92 L413.21 139.38 L414.21 137.79 L415.21 136.16 L416.21 134.48 L417.21 132.77 L418.20 131.07 L419.20 129.39 L420.20 127.77 L421.20 126.21 L422.19 124.68 L423.19 123.17 L424.19 121.66 L425.19 120.12 L426.19 118.53 L427.18 116.91 L428.18 115.26 L429.18 113.59 L430.18 111.94 L431.18 110.29 L432.17 108.68 L433.17 107.11 L434.17 105.54 L435.17 103.99 L436.17 102.43 L437.16 100.86 L438.16 99.27 L439.16 97.65 L440.16 96.03 L441.16 94.43 L442.15 92.87 L443.15 91.35 L444.15 89.91 L445.15 88.54 L446.15 87.24 L447.14 85.99 L448.14 84.78 L449.14 83.58 L450.14 82.38 L451.14 81.17 L452.13 79.97 L453.13 78.78 L454.13 77.64 L455.13 76.57 L456.13 75.59 L457.12 74.71 L458.12 73.91 L459.12 73.19 L460.12 72.53 L461.12 71.91 L462.11 71.32 L463.11 70.76 L464.11 70.22 L465.11 69.72 L466.11 69.25 L467.10 68.81 L468.10 68.41 L469.10 68.05 L470.10 67.72 L471.10 67.42 L472.09 67.14 L473.09 66.89 L474.09 66.66 L475.09 66.44 L476.09 66.23 L477.08 66.03 L478.08 65.84 L479.08 65.65 L480.08 65.45 L481.08 65.27 L482.07 65.09 L483.07 64.93 L484.07 64.79 L485.07 64.67 L486.07 64.57 L487.06 64.49 L488.06 64.42 L489.06 64.36 L490.06 64.30 L491.06 64.24 L492.05 64.18 L493.05 64.12 L494.05 64.06 L495.05 64.00 L496.05 63.95 L497.04 63.89 L498.04 63.84 L499.04 63.80 L500.04 63.76 L501.04 63.72 L502.03 63.68 L503.03 63.65 L504.03 63.63 L505.03 63.60 L506.03 63.58 L507.02 63.56 L508.02 63.54 L509.02 63.52 L510.02 63.51 L511.02 63.49 L512.01 63.48 L513.01 63.47 L514.01 63.45 L515.01 63.44 L516.01 63.43 L517.00 63.42 L518.00 63.41 L519.00 63.40" fill="none" stroke="#2a2adf" stroke-width="1.15" stroke-linejoin="round" stroke-linecap="round"/>
<path d="M427.4 145.2 H445.2" stroke="#111111" stroke-width="1.2"/>
<text transform="translate(448.00 147.90) rotate(0.05)" font-size="8.26" fill="#1a1a1a">Mut9 before boiling</text>
<path d="M427.4 155.5 H445.2" stroke="#ee1c25" stroke-width="1.2"/>
<text transform="translate(448.00 158.20) rotate(0.05)" font-size="8.26" fill="#1a1a1a">Mut9 after 2 min boiling</text>
<path d="M427.4 165.7 H445.2" stroke="#2a2adf" stroke-width="1.2"/>
<text transform="translate(448.00 168.40) rotate(0.05)" font-size="8.26" fill="#1a1a1a">Mut9 after 5 min boiling</text>
<path d="M427.4 175.5 H445.2" stroke="#f01cf0" stroke-width="1.2"/>
<text transform="translate(448.00 178.20) rotate(0.05)" font-size="8.26" fill="#1a1a1a">Mut9 after 10 min boiling</text></g>
<g><path d="M49.35 251.30 V407.30 H245.80" fill="none" stroke="#383838" stroke-width="0.95"/>
<path d="M49.35 251.60 h-3.4 M49.35 264.58 h-1.9 M49.35 277.55 h-3.4 M49.35 290.53 h-1.9 M49.35 303.50 h-3.4 M49.35 316.48 h-1.9 M49.35 329.45 h-3.4 M49.35 342.43 h-1.9 M49.35 355.40 h-3.4 M49.35 368.38 h-1.9 M49.35 381.35 h-3.4 M49.35 394.33 h-1.9 M49.35 407.30 h-3.4 M49.35 407.30 v3.4 M53.27 407.30 v1.9 M57.20 407.30 v1.9 M61.12 407.30 v1.9 M65.04 407.30 v1.9 M68.97 407.30 v3.4 M72.89 407.30 v1.9 M76.81 407.30 v1.9 M80.73 407.30 v1.9 M84.66 407.30 v1.9 M88.58 407.30 v3.4 M92.50 407.30 v1.9 M96.43 407.30 v1.9 M100.35 407.30 v1.9 M104.27 407.30 v1.9 M108.19 407.30 v3.4 M112.12 407.30 v1.9 M116.04 407.30 v1.9 M119.96 407.30 v1.9 M123.89 407.30 v1.9 M127.81 407.30 v3.4 M131.73 407.30 v1.9 M135.66 407.30 v1.9 M139.58 407.30 v1.9 M143.50 407.30 v1.9 M147.43 407.30 v3.4 M151.35 407.30 v1.9 M155.27 407.30 v1.9 M159.19 407.30 v1.9 M163.12 407.30 v1.9 M167.04 407.30 v3.4 M170.96 407.30 v1.9 M174.89 407.30 v1.9 M178.81 407.30 v1.9 M182.73 407.30 v1.9 M186.66 407.30 v3.4 M190.58 407.30 v1.9 M194.50 407.30 v1.9 M198.42 407.30 v1.9 M202.35 407.30 v1.9 M206.27 407.30 v3.4 M210.19 407.30 v1.9 M214.12 407.30 v1.9 M218.04 407.30 v1.9 M221.96 407.30 v1.9 M225.88 407.30 v3.4 M229.81 407.30 v1.9 M233.73 407.30 v1.9 M237.65 407.30 v1.9 M241.58 407.30 v1.9 M245.50 407.30 v3.4 " fill="none" stroke="#383838" stroke-width="0.9"/>
<text transform="translate(43.95 253.85) rotate(0.05)" font-size="7.3" text-anchor="end" fill="#1a1a1a">3 000</text>
<text transform="translate(43.95 279.80) rotate(0.05)" font-size="7.3" text-anchor="end" fill="#1a1a1a">0</text>
<text transform="translate(43.95 305.75) rotate(0.05)" font-size="7.3" text-anchor="end" fill="#1a1a1a">−3 000</text>
<text transform="translate(43.95 331.70) rotate(0.05)" font-size="7.3" text-anchor="end" fill="#1a1a1a">−6 000</text>
<text transform="translate(43.95 357.65) rotate(0.05)" font-size="7.3" text-anchor="end" fill="#1a1a1a">−9 000</text>
<text transform="translate(43.95 383.60) rotate(0.05)" font-size="7.3" text-anchor="end" fill="#1a1a1a">−12,000</text>
<text transform="translate(43.95 409.55) rotate(0.05)" font-size="7.3" text-anchor="end" fill="#1a1a1a">−15,000</text>
<text transform="translate(49.35 418.60) rotate(0.05)" font-size="7.3" text-anchor="middle" fill="#1a1a1a">200</text>
<text transform="translate(68.97 418.60) rotate(0.05)" font-size="7.3" text-anchor="middle" fill="#1a1a1a">205</text>
<text transform="translate(88.58 418.60) rotate(0.05)" font-size="7.3" text-anchor="middle" fill="#1a1a1a">210</text>
<text transform="translate(108.19 418.60) rotate(0.05)" font-size="7.3" text-anchor="middle" fill="#1a1a1a">215</text>
<text transform="translate(127.81 418.60) rotate(0.05)" font-size="7.3" text-anchor="middle" fill="#1a1a1a">220</text>
<text transform="translate(147.43 418.60) rotate(0.05)" font-size="7.3" text-anchor="middle" fill="#1a1a1a">225</text>
<text transform="translate(167.04 418.60) rotate(0.05)" font-size="7.3" text-anchor="middle" fill="#1a1a1a">230</text>
<text transform="translate(186.66 418.60) rotate(0.05)" font-size="7.3" text-anchor="middle" fill="#1a1a1a">235</text>
<text transform="translate(206.27 418.60) rotate(0.05)" font-size="7.3" text-anchor="middle" fill="#1a1a1a">240</text>
<text transform="translate(225.88 418.60) rotate(0.05)" font-size="7.3" text-anchor="middle" fill="#1a1a1a">245</text>
<text transform="translate(245.50 418.60) rotate(0.05)" font-size="7.3" text-anchor="middle" fill="#1a1a1a">250</text>
<text transform="translate(147.90 431.20) rotate(0.05)" font-size="8.35" text-anchor="middle" fill="#1a1a1a">Wavelength (nm)</text>
<text transform="translate(16.3 329.0) rotate(-90)" font-size="8.3" text-anchor="middle" fill="#1a1a1a">MRE (deg cm<tspan font-size="3.9" dy="-4.9">2</tspan><tspan dy="4.9"> mol</tspan><tspan font-size="3.9" dy="-4.9">−1</tspan><tspan dy="4.9">)</tspan></text>
<text transform="translate(132.30 250.90) rotate(0.05)" font-size="10.45" fill="#1a1a1a" style="stroke-width:0.14px">MNEI, pH 2.5</text>
<text transform="translate(18.7 233.8) rotate(0.05) scale(0.83 1)" font-size="10.6" font-weight="bold" fill="#000">C</text>
<path d="M49.35 337.20 L50.33 337.15 L51.31 337.12 L52.30 337.12 L53.28 337.18 L54.26 337.30 L55.24 337.50 L56.23 337.81 L57.21 338.21 L58.19 338.71 L59.17 339.32 L60.15 340.04 L61.14 340.87 L62.12 341.81 L63.10 342.87 L64.08 344.04 L65.06 345.31 L66.05 346.68 L67.03 348.14 L68.01 349.70 L68.99 351.36 L69.98 353.13 L70.96 355.02 L71.94 357.06 L72.92 359.24 L73.90 361.58 L74.89 364.10 L75.87 366.78 L76.85 369.53 L77.83 372.22 L78.81 374.79 L79.80 377.24 L80.78 379.55 L81.76 381.73 L82.74 383.76 L83.73 385.64 L84.71 387.35 L85.69 388.89 L86.67 390.28 L87.65 391.52 L88.64 392.62 L89.62 393.60 L90.60 394.46 L91.58 395.24 L92.57 395.93 L93.55 396.57 L94.53 397.16 L95.51 397.71 L96.49 398.19 L97.48 398.61 L98.46 398.95 L99.44 399.20 L100.42 399.38 L101.40 399.48 L102.39 399.52 L103.37 399.51 L104.35 399.44 L105.33 399.32 L106.32 399.14 L107.30 398.90 L108.28 398.60 L109.26 398.23 L110.24 397.79 L111.23 397.27 L112.21 396.65 L113.19 395.93 L114.17 395.10 L115.15 394.17 L116.14 393.16 L117.12 392.10 L118.10 391.00 L119.08 389.88 L120.07 388.76 L121.05 387.60 L122.03 386.42 L123.01 385.21 L123.99 383.96 L124.98 382.68 L125.96 381.38 L126.94 380.05 L127.92 378.71 L128.91 377.35 L129.89 375.94 L130.87 374.47 L131.85 372.92 L132.83 371.31 L133.82 369.68 L134.80 368.05 L135.78 366.47 L136.76 364.94 L137.74 363.42 L138.73 361.89 L139.71 360.32 L140.69 358.70 L141.67 357.01 L142.66 355.23 L143.64 353.37 L144.62 351.42 L145.60 349.36 L146.58 347.19 L147.57 344.95 L148.55 342.64 L149.53 340.30 L150.51 337.95 L151.49 335.60 L152.48 333.26 L153.46 330.94 L154.44 328.63 L155.42 326.34 L156.41 324.06 L157.39 321.80 L158.37 319.55 L159.35 317.32 L160.33 315.09 L161.32 312.87 L162.30 310.65 L163.28 308.45 L164.26 306.29 L165.24 304.19 L166.23 302.18 L167.21 300.28 L168.19 298.51 L169.17 296.90 L170.16 295.40 L171.14 293.99 L172.12 292.63 L173.10 291.29 L174.08 289.92 L175.07 288.53 L176.05 287.15 L177.03 285.79 L178.01 284.48 L179.00 283.26 L179.98 282.14 L180.96 281.14 L181.94 280.24 L182.92 279.44 L183.91 278.73 L184.89 278.11 L185.87 277.57 L186.85 277.09 L187.83 276.69 L188.82 276.33 L189.80 276.02 L190.78 275.75 L191.76 275.51 L192.75 275.31 L193.73 275.14 L194.71 275.01 L195.69 274.93 L196.67 274.89 L197.66 274.91 L198.64 274.96 L199.62 275.04 L200.60 275.14 L201.58 275.26 L202.57 275.38 L203.55 275.51 L204.53 275.64 L205.51 275.78 L206.50 275.93 L207.48 276.08 L208.46 276.24 L209.44 276.41 L210.42 276.57 L211.41 276.74 L212.39 276.89 L213.37 277.03 L214.35 277.16 L215.34 277.26 L216.32 277.35 L217.30 277.42 L218.28 277.46 L219.26 277.48 L220.25 277.49 L221.23 277.50 L222.21 277.50 L223.19 277.50 L224.17 277.51 L225.16 277.51 L226.14 277.52 L227.12 277.51 L228.10 277.50 L229.09 277.48 L230.07 277.45 L231.05 277.42 L232.03 277.38 L233.01 277.34 L234.00 277.30 L234.98 277.27 L235.96 277.24 L236.94 277.22 L237.92 277.21 L238.91 277.20 L239.89 277.20 L240.87 277.21 L241.85 277.23 L242.84 277.25 L243.82 277.27 L244.80 277.30" fill="none" stroke="#f01cf0" stroke-width="1.15" stroke-linejoin="round" stroke-linecap="round"/>
<path d="M49.35 305.30 L50.34 309.84 L51.33 314.23 L52.32 318.29 L53.30 321.88 L54.29 324.87 L55.28 327.30 L56.27 329.28 L57.26 330.93 L58.25 332.36 L59.23 333.67 L60.22 334.93 L61.21 336.19 L62.20 337.48 L63.19 338.83 L64.18 340.29 L65.17 341.88 L66.15 343.63 L67.14 345.60 L68.13 347.78 L69.12 350.14 L70.11 352.64 L71.10 355.22 L72.08 357.85 L73.07 360.48 L74.06 363.05 L75.05 365.53 L76.04 367.89 L77.03 370.21 L78.01 372.61 L79.00 375.10 L79.99 377.58 L80.98 379.95 L81.97 382.15 L82.96 384.16 L83.95 386.00 L84.93 387.68 L85.92 389.22 L86.91 390.60 L87.90 391.86 L88.89 392.97 L89.88 393.97 L90.86 394.85 L91.85 395.67 L92.84 396.45 L93.83 397.22 L94.82 398.01 L95.81 398.80 L96.80 399.56 L97.78 400.27 L98.77 400.88 L99.76 401.40 L100.75 401.83 L101.74 402.18 L102.73 402.44 L103.71 402.63 L104.70 402.76 L105.69 402.82 L106.68 402.82 L107.67 402.74 L108.66 402.58 L109.64 402.32 L110.63 401.94 L111.62 401.45 L112.61 400.85 L113.60 400.15 L114.59 399.36 L115.58 398.49 L116.56 397.54 L117.55 396.52 L118.54 395.44 L119.53 394.31 L120.52 393.15 L121.51 391.95 L122.49 390.73 L123.48 389.50 L124.47 388.26 L125.46 386.99 L126.45 385.67 L127.44 384.29 L128.43 382.83 L129.41 381.31 L130.40 379.74 L131.39 378.15 L132.38 376.55 L133.37 374.95 L134.36 373.35 L135.34 371.75 L136.33 370.14 L137.32 368.51 L138.31 366.87 L139.30 365.19 L140.29 363.46 L141.28 361.68 L142.26 359.83 L143.25 357.91 L144.24 355.91 L145.23 353.83 L146.22 351.67 L147.21 349.41 L148.19 347.06 L149.18 344.64 L150.17 342.19 L151.16 339.72 L152.15 337.26 L153.14 334.82 L154.12 332.42 L155.11 330.04 L156.10 327.69 L157.09 325.37 L158.08 323.08 L159.07 320.80 L160.06 318.55 L161.04 316.30 L162.03 314.07 L163.02 311.84 L164.01 309.62 L165.00 307.42 L165.99 305.27 L166.97 303.20 L167.96 301.23 L168.95 299.38 L169.94 297.68 L170.93 296.11 L171.92 294.66 L172.91 293.27 L173.89 291.91 L174.88 290.56 L175.87 289.17 L176.86 287.77 L177.85 286.38 L178.84 285.04 L179.82 283.77 L180.81 282.60 L181.80 281.54 L182.79 280.59 L183.78 279.75 L184.77 279.00 L185.76 278.34 L186.74 277.76 L187.73 277.26 L188.72 276.83 L189.71 276.46 L190.70 276.13 L191.69 275.84 L192.67 275.59 L193.66 275.37 L194.65 275.19 L195.64 275.05 L196.63 274.95 L197.62 274.90 L198.60 274.90 L199.59 274.94 L200.58 275.01 L201.57 275.11 L202.56 275.23 L203.55 275.35 L204.54 275.48 L205.52 275.61 L206.51 275.75 L207.50 275.89 L208.49 276.04 L209.48 276.20 L210.47 276.37 L211.45 276.54 L212.44 276.70 L213.43 276.86 L214.42 277.00 L215.41 277.13 L216.40 277.25 L217.39 277.34 L218.37 277.41 L219.36 277.45 L220.35 277.48 L221.34 277.49 L222.33 277.50 L223.32 277.50 L224.30 277.50 L225.29 277.51 L226.28 277.51 L227.27 277.52 L228.26 277.51 L229.25 277.50 L230.23 277.49 L231.22 277.46 L232.21 277.42 L233.20 277.38 L234.19 277.34 L235.18 277.30 L236.17 277.27 L237.15 277.24 L238.14 277.22 L239.13 277.21 L240.12 277.20 L241.11 277.20 L242.10 277.21 L243.08 277.23 L244.07 277.25 L245.06 277.27 L246.05 277.30" fill="none" stroke="#111111" stroke-width="1.0" stroke-linejoin="round" stroke-linecap="round"/>
<path d="M49.35 305.80 L50.34 308.01 L51.32 310.27 L52.31 312.63 L53.30 315.14 L54.29 317.82 L55.27 320.64 L56.26 323.49 L57.25 326.30 L58.24 328.97 L59.22 331.42 L60.21 333.63 L61.20 335.65 L62.19 337.53 L63.17 339.34 L64.16 341.12 L65.15 342.93 L66.14 344.83 L67.12 346.87 L68.11 349.08 L69.10 351.44 L70.09 353.91 L71.07 356.45 L72.06 359.02 L73.05 361.57 L74.04 364.08 L75.02 366.50 L76.01 368.82 L77.00 371.15 L77.99 373.59 L78.97 376.08 L79.96 378.54 L80.95 380.87 L81.94 383.01 L82.92 384.97 L83.91 386.77 L84.90 388.41 L85.89 389.90 L86.87 391.25 L87.86 392.46 L88.85 393.55 L89.83 394.51 L90.82 395.37 L91.81 396.18 L92.80 396.95 L93.78 397.73 L94.77 398.52 L95.76 399.30 L96.75 400.05 L97.73 400.73 L98.72 401.33 L99.71 401.83 L100.70 402.26 L101.68 402.60 L102.67 402.88 L103.66 403.09 L104.65 403.25 L105.63 403.35 L106.62 403.42 L107.61 403.43 L108.60 403.36 L109.58 403.18 L110.57 402.85 L111.56 402.35 L112.55 401.66 L113.53 400.85 L114.52 399.96 L115.51 399.06 L116.50 398.13 L117.48 397.17 L118.47 396.15 L119.46 395.07 L120.45 393.93 L121.43 392.74 L122.42 391.52 L123.41 390.29 L124.40 389.05 L125.38 387.80 L126.37 386.51 L127.36 385.17 L128.34 383.75 L129.33 382.27 L130.32 380.72 L131.31 379.14 L132.29 377.54 L133.28 375.92 L134.27 374.31 L135.26 372.70 L136.24 371.11 L137.23 369.53 L138.22 367.96 L139.21 366.35 L140.19 364.65 L141.18 362.82 L142.17 360.83 L143.16 358.66 L144.14 356.37 L145.13 353.99 L146.12 351.56 L147.11 349.12 L148.09 346.69 L149.08 344.26 L150.07 341.85 L151.06 339.44 L152.04 337.03 L153.03 334.63 L154.02 332.23 L155.01 329.85 L155.99 327.49 L156.98 325.16 L157.97 322.86 L158.96 320.59 L159.94 318.34 L160.93 316.10 L161.92 313.87 L162.91 311.65 L163.89 309.43 L164.88 307.24 L165.87 305.10 L166.86 303.04 L167.84 301.08 L168.83 299.24 L169.82 297.55 L170.80 296.00 L171.79 294.55 L172.78 293.17 L173.77 291.81 L174.75 290.45 L175.74 289.07 L176.73 287.67 L177.72 286.29 L178.70 284.95 L179.69 283.69 L180.68 282.52 L181.67 281.47 L182.65 280.53 L183.64 279.70 L184.63 278.95 L185.62 278.30 L186.60 277.73 L187.59 277.24 L188.58 276.81 L189.57 276.44 L190.55 276.11 L191.54 275.83 L192.53 275.58 L193.52 275.36 L194.50 275.18 L195.49 275.04 L196.48 274.94 L197.47 274.90 L198.45 274.90 L199.44 274.94 L200.43 275.02 L201.42 275.12 L202.40 275.23 L203.39 275.36 L204.38 275.48 L205.37 275.61 L206.35 275.75 L207.34 275.90 L208.33 276.05 L209.31 276.21 L210.30 276.38 L211.29 276.54 L212.28 276.71 L213.26 276.86 L214.25 277.01 L215.24 277.14 L216.23 277.25 L217.21 277.34 L218.20 277.41 L219.19 277.45 L220.18 277.48 L221.16 277.49 L222.15 277.50 L223.14 277.50 L224.13 277.50 L225.11 277.51 L226.10 277.51 L227.09 277.52 L228.08 277.51 L229.06 277.50 L230.05 277.48 L231.04 277.46 L232.03 277.42 L233.01 277.38 L234.00 277.34 L234.99 277.30 L235.98 277.27 L236.96 277.24 L237.95 277.22 L238.94 277.21 L239.93 277.20 L240.91 277.20 L241.90 277.21 L242.89 277.23 L243.88 277.25 L244.86 277.27 L245.85 277.30" fill="none" stroke="#ee1c25" stroke-width="1.15" stroke-linejoin="round" stroke-linecap="round"/>
<path d="M49.35 304.50 L50.34 308.41 L51.32 312.22 L52.31 315.83 L53.29 319.16 L54.28 322.11 L55.26 324.71 L56.25 326.98 L57.24 328.98 L58.22 330.75 L59.21 332.33 L60.19 333.77 L61.18 335.12 L62.16 336.43 L63.15 337.75 L64.14 339.14 L65.12 340.64 L66.11 342.30 L67.09 344.19 L68.08 346.31 L69.06 348.65 L70.05 351.15 L71.03 353.75 L72.02 356.42 L73.01 359.09 L73.99 361.73 L74.98 364.28 L75.96 366.69 L76.95 369.00 L77.93 371.35 L78.92 373.80 L79.91 376.29 L80.89 378.72 L81.88 380.99 L82.86 383.08 L83.85 384.99 L84.83 386.74 L85.82 388.33 L86.81 389.78 L87.79 391.09 L88.78 392.27 L89.76 393.32 L90.75 394.24 L91.73 395.09 L92.72 395.88 L93.71 396.65 L94.69 397.43 L95.68 398.23 L96.66 399.01 L97.65 399.74 L98.63 400.39 L99.62 400.94 L100.61 401.40 L101.59 401.75 L102.58 402.02 L103.56 402.19 L104.55 402.29 L105.53 402.31 L106.52 402.27 L107.51 402.15 L108.49 401.97 L109.48 401.72 L110.46 401.41 L111.45 401.04 L112.43 400.58 L113.42 400.00 L114.40 399.29 L115.39 398.44 L116.38 397.47 L117.36 396.42 L118.35 395.32 L119.33 394.18 L120.32 393.01 L121.30 391.81 L122.29 390.61 L123.28 389.39 L124.26 388.15 L125.25 386.88 L126.23 385.56 L127.22 384.17 L128.20 382.71 L129.19 381.19 L130.18 379.63 L131.16 378.04 L132.15 376.44 L133.13 374.84 L134.12 373.24 L135.10 371.64 L136.09 370.04 L137.08 368.44 L138.06 366.81 L139.05 365.15 L140.03 363.41 L141.02 361.59 L142.00 359.66 L142.99 357.64 L143.98 355.53 L144.96 353.33 L145.95 351.07 L146.93 348.73 L147.92 346.35 L148.90 343.93 L149.89 341.49 L150.87 339.05 L151.86 336.61 L152.85 334.20 L153.83 331.81 L154.82 329.44 L155.80 327.11 L156.79 324.79 L157.77 322.51 L158.76 320.24 L159.75 318.00 L160.73 315.76 L161.72 313.54 L162.70 311.32 L163.69 309.10 L164.67 306.92 L165.66 304.80 L166.65 302.75 L167.63 300.81 L168.62 298.99 L169.60 297.33 L170.59 295.80 L171.57 294.36 L172.56 292.99 L173.55 291.64 L174.53 290.28 L175.52 288.89 L176.50 287.49 L177.49 286.12 L178.47 284.79 L179.46 283.54 L180.45 282.40 L181.43 281.36 L182.42 280.43 L183.40 279.61 L184.39 278.88 L185.37 278.24 L186.36 277.68 L187.34 277.19 L188.33 276.77 L189.32 276.40 L190.30 276.08 L191.29 275.80 L192.27 275.56 L193.26 275.34 L194.24 275.17 L195.23 275.03 L196.22 274.94 L197.20 274.90 L198.19 274.90 L199.17 274.95 L200.16 275.02 L201.14 275.12 L202.13 275.24 L203.12 275.37 L204.10 275.49 L205.09 275.62 L206.07 275.76 L207.06 275.91 L208.04 276.06 L209.03 276.22 L210.02 276.39 L211.00 276.55 L211.99 276.72 L212.97 276.87 L213.96 277.02 L214.94 277.14 L215.93 277.25 L216.92 277.34 L217.90 277.41 L218.89 277.46 L219.87 277.48 L220.86 277.49 L221.84 277.50 L222.83 277.50 L223.82 277.50 L224.80 277.51 L225.79 277.51 L226.77 277.52 L227.76 277.51 L228.74 277.50 L229.73 277.48 L230.71 277.45 L231.70 277.42 L232.69 277.38 L233.67 277.34 L234.66 277.30 L235.64 277.27 L236.63 277.24 L237.61 277.22 L238.60 277.21 L239.59 277.20 L240.57 277.20 L241.56 277.21 L242.54 277.23 L243.53 277.25 L244.51 277.27 L245.50 277.30" fill="none" stroke="#2a2adf" stroke-width="1.15" stroke-linejoin="round" stroke-linecap="round"/>
<path d="M156.9 356.0 H174.0" stroke="#111111" stroke-width="1.2"/>
<text transform="translate(177.40 358.70) rotate(0.05)" font-size="8.17" fill="#1a1a1a">MNEI before boiling</text>
<path d="M156.9 365.7 H174.0" stroke="#ee1c25" stroke-width="1.2"/>
<text transform="translate(177.40 368.40) rotate(0.05)" font-size="8.17" fill="#1a1a1a">MNEI after 2 min boiling</text>
<path d="M156.9 375.9 H174.0" stroke="#2a2adf" stroke-width="1.2"/>
<text transform="translate(177.40 378.60) rotate(0.05)" font-size="8.17" fill="#1a1a1a">MNEI after 5 min boiling</text>
<path d="M156.9 386.0 H174.0" stroke="#f01cf0" stroke-width="1.2"/>
<text transform="translate(177.40 388.70) rotate(0.05)" font-size="8.17" fill="#1a1a1a">MNEI after 10 min boiling</text></g>
<g><path d="M319.40 246.40 V408.40 H517.45" fill="none" stroke="#383838" stroke-width="0.95"/>
<path d="M319.40 246.70 h-3.4 M319.40 260.18 h-1.9 M319.40 273.65 h-3.4 M319.40 287.12 h-1.9 M319.40 300.60 h-3.4 M319.40 314.07 h-1.9 M319.40 327.55 h-3.4 M319.40 341.02 h-1.9 M319.40 354.50 h-3.4 M319.40 367.98 h-1.9 M319.40 381.45 h-3.4 M319.40 394.93 h-1.9 M319.40 408.40 h-3.4 M319.40 408.40 v3.4 M323.35 408.40 v1.9 M327.31 408.40 v1.9 M331.26 408.40 v1.9 M335.22 408.40 v1.9 M339.17 408.40 v3.4 M343.13 408.40 v1.9 M347.08 408.40 v1.9 M351.04 408.40 v1.9 M355.00 408.40 v1.9 M358.95 408.40 v3.4 M362.90 408.40 v1.9 M366.86 408.40 v1.9 M370.81 408.40 v1.9 M374.77 408.40 v1.9 M378.72 408.40 v3.4 M382.68 408.40 v1.9 M386.63 408.40 v1.9 M390.59 408.40 v1.9 M394.54 408.40 v1.9 M398.50 408.40 v3.4 M402.45 408.40 v1.9 M406.41 408.40 v1.9 M410.37 408.40 v1.9 M414.32 408.40 v1.9 M418.27 408.40 v3.4 M422.23 408.40 v1.9 M426.18 408.40 v1.9 M430.14 408.40 v1.9 M434.09 408.40 v1.9 M438.05 408.40 v3.4 M442.00 408.40 v1.9 M445.96 408.40 v1.9 M449.91 408.40 v1.9 M453.87 408.40 v1.9 M457.82 408.40 v3.4 M461.78 408.40 v1.9 M465.74 408.40 v1.9 M469.69 408.40 v1.9 M473.64 408.40 v1.9 M477.60 408.40 v3.4 M481.55 408.40 v1.9 M485.51 408.40 v1.9 M489.46 408.40 v1.9 M493.42 408.40 v1.9 M497.38 408.40 v3.4 M501.33 408.40 v1.9 M505.28 408.40 v1.9 M509.24 408.40 v1.9 M513.19 408.40 v1.9 M517.15 408.40 v3.4 " fill="none" stroke="#383838" stroke-width="0.9"/>
<text transform="translate(314.00 248.95) rotate(0.05)" font-size="7.3" text-anchor="end" fill="#1a1a1a">3 000</text>
<text transform="translate(314.00 275.90) rotate(0.05)" font-size="7.3" text-anchor="end" fill="#1a1a1a">0</text>
<text transform="translate(314.00 302.85) rotate(0.05)" font-size="7.3" text-anchor="end" fill="#1a1a1a">−3 000</text>
<text transform="translate(314.00 329.80) rotate(0.05)" font-size="7.3" text-anchor="end" fill="#1a1a1a">−6 000</text>
<text transform="translate(314.00 356.75) rotate(0.05)" font-size="7.3" text-anchor="end" fill="#1a1a1a">−9 000</text>
<text transform="translate(314.00 383.70) rotate(0.05)" font-size="7.3" text-anchor="end" fill="#1a1a1a">−12,000</text>
<text transform="translate(314.00 410.65) rotate(0.05)" font-size="7.3" text-anchor="end" fill="#1a1a1a">−15,000</text>
<text transform="translate(319.40 419.40) rotate(0.05)" font-size="7.3" text-anchor="middle" fill="#1a1a1a">200</text>
<text transform="translate(339.17 419.40) rotate(0.05)" font-size="7.3" text-anchor="middle" fill="#1a1a1a">205</text>
<text transform="translate(358.95 419.40) rotate(0.05)" font-size="7.3" text-anchor="middle" fill="#1a1a1a">210</text>
<text transform="translate(378.72 419.40) rotate(0.05)" font-size="7.3" text-anchor="middle" fill="#1a1a1a">215</text>
<text transform="translate(398.50 419.40) rotate(0.05)" font-size="7.3" text-anchor="middle" fill="#1a1a1a">220</text>
<text transform="translate(418.27 419.40) rotate(0.05)" font-size="7.3" text-anchor="middle" fill="#1a1a1a">225</text>
<text transform="translate(438.05 419.40) rotate(0.05)" font-size="7.3" text-anchor="middle" fill="#1a1a1a">230</text>
<text transform="translate(457.82 419.40) rotate(0.05)" font-size="7.3" text-anchor="middle" fill="#1a1a1a">235</text>
<text transform="translate(477.60 419.40) rotate(0.05)" font-size="7.3" text-anchor="middle" fill="#1a1a1a">240</text>
<text transform="translate(497.38 419.40) rotate(0.05)" font-size="7.3" text-anchor="middle" fill="#1a1a1a">245</text>
<text transform="translate(517.15 419.40) rotate(0.05)" font-size="7.3" text-anchor="middle" fill="#1a1a1a">250</text>
<text transform="translate(418.50 432.60) rotate(0.05)" font-size="8.4" text-anchor="middle" fill="#1a1a1a">Wavelength (nm)</text>
<text transform="translate(286.3 333.6) rotate(-90)" font-size="8.6" text-anchor="middle" fill="#1a1a1a">MRE (deg cm<tspan font-size="3.9" dy="-4.9">2</tspan><tspan dy="4.9"> mol</tspan><tspan font-size="3.9" dy="-4.9">−1</tspan><tspan dy="4.9">)</tspan></text>
<text transform="translate(404.80 247.50) rotate(0.05)" font-size="10.45" fill="#1a1a1a" style="stroke-width:0.14px">MNEI, pH 6.8</text>
<text transform="translate(278.8 235.7) rotate(0.05) scale(1.0 1)" font-size="10.6" font-weight="bold" fill="#000">D</text>
<path d="M319.40 308.20 L320.39 309.17 L321.39 310.15 L322.38 311.14 L323.37 312.15 L324.36 313.19 L325.36 314.25 L326.35 315.36 L327.34 316.51 L328.34 317.71 L329.33 318.97 L330.32 320.29 L331.32 321.69 L332.31 323.17 L333.30 324.72 L334.29 326.35 L335.29 328.03 L336.28 329.76 L337.27 331.53 L338.27 333.33 L339.26 335.16 L340.25 337.06 L341.25 339.05 L342.24 341.16 L343.23 343.36 L344.22 345.59 L345.22 347.77 L346.21 349.85 L347.20 351.79 L348.20 353.65 L349.19 355.44 L350.18 357.20 L351.17 358.97 L352.17 360.78 L353.16 362.62 L354.15 364.45 L355.15 366.26 L356.14 368.03 L357.13 369.72 L358.13 371.32 L359.12 372.83 L360.11 374.23 L361.10 375.54 L362.10 376.73 L363.09 377.81 L364.08 378.78 L365.08 379.64 L366.07 380.39 L367.06 381.02 L368.06 381.54 L369.05 381.96 L370.04 382.27 L371.03 382.50 L372.03 382.65 L373.02 382.75 L374.01 382.80 L375.01 382.82 L376.00 382.81 L376.99 382.77 L377.98 382.70 L378.98 382.59 L379.97 382.46 L380.96 382.30 L381.96 382.12 L382.95 381.92 L383.94 381.71 L384.94 381.50 L385.93 381.29 L386.92 381.07 L387.91 380.81 L388.91 380.50 L389.90 380.10 L390.89 379.58 L391.89 378.94 L392.88 378.18 L393.87 377.31 L394.87 376.33 L395.86 375.25 L396.85 374.07 L397.84 372.81 L398.84 371.48 L399.83 370.08 L400.82 368.64 L401.82 367.17 L402.81 365.69 L403.80 364.17 L404.79 362.63 L405.79 361.03 L406.78 359.39 L407.77 357.67 L408.77 355.88 L409.76 354.03 L410.75 352.14 L411.75 350.22 L412.74 348.29 L413.73 346.36 L414.72 344.44 L415.72 342.53 L416.71 340.62 L417.70 338.71 L418.70 336.79 L419.69 334.85 L420.68 332.89 L421.68 330.88 L422.67 328.81 L423.66 326.69 L424.65 324.54 L425.65 322.39 L426.64 320.25 L427.63 318.16 L428.63 316.13 L429.62 314.19 L430.61 312.34 L431.61 310.56 L432.60 308.80 L433.59 307.06 L434.58 305.29 L435.58 303.49 L436.57 301.68 L437.56 299.88 L438.56 298.10 L439.55 296.37 L440.54 294.70 L441.53 293.11 L442.53 291.57 L443.52 290.09 L444.51 288.65 L445.51 287.23 L446.50 285.84 L447.49 284.48 L448.49 283.16 L449.48 281.90 L450.47 280.72 L451.46 279.63 L452.46 278.63 L453.45 277.73 L454.44 276.91 L455.44 276.19 L456.43 275.54 L457.42 274.97 L458.42 274.46 L459.41 274.02 L460.40 273.63 L461.39 273.28 L462.39 272.96 L463.38 272.68 L464.37 272.42 L465.37 272.19 L466.36 272.00 L467.35 271.85 L468.34 271.75 L469.34 271.68 L470.33 271.65 L471.32 271.65 L472.32 271.68 L473.31 271.73 L474.30 271.80 L475.30 271.90 L476.29 272.01 L477.28 272.14 L478.27 272.28 L479.27 272.43 L480.26 272.59 L481.25 272.75 L482.25 272.92 L483.24 273.09 L484.23 273.25 L485.23 273.40 L486.22 273.52 L487.21 273.61 L488.20 273.68 L489.20 273.72 L490.19 273.74 L491.18 273.74 L492.18 273.73 L493.17 273.72 L494.16 273.71 L495.15 273.69 L496.15 273.68 L497.14 273.67 L498.13 273.67 L499.13 273.67 L500.12 273.67 L501.11 273.67 L502.11 273.67 L503.10 273.68 L504.09 273.68 L505.08 273.69 L506.08 273.70 L507.07 273.71 L508.06 273.71 L509.06 273.72 L510.05 273.73 L511.04 273.74 L512.04 273.75 L513.03 273.76 L514.02 273.77 L515.01 273.78 L516.01 273.79 L517.00 273.80" fill="none" stroke="#111111" stroke-width="1.0" stroke-linejoin="round" stroke-linecap="round"/>
<path d="M319.40 267.20 L320.39 268.22 L321.39 269.23 L322.38 270.24 L323.37 271.22 L324.36 272.19 L325.36 273.13 L326.35 274.05 L327.34 274.92 L328.34 275.76 L329.33 276.56 L330.32 277.32 L331.32 278.03 L332.31 278.70 L333.30 279.32 L334.29 279.89 L335.29 280.41 L336.28 280.87 L337.27 281.29 L338.27 281.67 L339.26 282.02 L340.25 282.33 L341.25 282.62 L342.24 282.88 L343.23 283.13 L344.22 283.36 L345.22 283.59 L346.21 283.81 L347.20 284.03 L348.20 284.25 L349.19 284.49 L350.18 284.74 L351.17 285.00 L352.17 285.29 L353.16 285.59 L354.15 285.89 L355.15 286.19 L356.14 286.48 L357.13 286.75 L358.13 287.00 L359.12 287.22 L360.11 287.41 L361.10 287.58 L362.10 287.75 L363.09 287.94 L364.08 288.16 L365.08 288.42 L366.07 288.75 L367.06 289.12 L368.06 289.51 L369.05 289.90 L370.04 290.27 L371.03 290.61 L372.03 290.89 L373.02 291.12 L374.01 291.31 L375.01 291.46 L376.00 291.57 L376.99 291.66 L377.98 291.72 L378.98 291.75 L379.97 291.76 L380.96 291.75 L381.96 291.72 L382.95 291.68 L383.94 291.62 L384.94 291.55 L385.93 291.47 L386.92 291.38 L387.91 291.28 L388.91 291.18 L389.90 291.07 L390.89 290.96 L391.89 290.85 L392.88 290.73 L393.87 290.62 L394.87 290.50 L395.86 290.38 L396.85 290.26 L397.84 290.14 L398.84 290.02 L399.83 289.90 L400.82 289.78 L401.82 289.67 L402.81 289.55 L403.80 289.43 L404.79 289.31 L405.79 289.19 L406.78 289.07 L407.77 288.94 L408.77 288.82 L409.76 288.69 L410.75 288.55 L411.75 288.41 L412.74 288.25 L413.73 288.07 L414.72 287.85 L415.72 287.58 L416.71 287.27 L417.70 286.90 L418.70 286.50 L419.69 286.08 L420.68 285.64 L421.68 285.21 L422.67 284.79 L423.66 284.39 L424.65 284.00 L425.65 283.63 L426.64 283.28 L427.63 282.96 L428.63 282.65 L429.62 282.36 L430.61 282.08 L431.61 281.82 L432.60 281.57 L433.59 281.32 L434.58 281.09 L435.58 280.87 L436.57 280.65 L437.56 280.43 L438.56 280.21 L439.55 280.00 L440.54 279.79 L441.53 279.57 L442.53 279.36 L443.52 279.15 L444.51 278.94 L445.51 278.73 L446.50 278.52 L447.49 278.32 L448.49 278.11 L449.48 277.90 L450.47 277.69 L451.46 277.49 L452.46 277.28 L453.45 277.08 L454.44 276.89 L455.44 276.70 L456.43 276.52 L457.42 276.35 L458.42 276.19 L459.41 276.04 L460.40 275.90 L461.39 275.77 L462.39 275.66 L463.38 275.55 L464.37 275.46 L465.37 275.37 L466.36 275.29 L467.35 275.21 L468.34 275.13 L469.34 275.05 L470.33 274.98 L471.32 274.90 L472.32 274.82 L473.31 274.73 L474.30 274.65 L475.30 274.56 L476.29 274.47 L477.28 274.39 L478.27 274.31 L479.27 274.23 L480.26 274.16 L481.25 274.09 L482.25 274.03 L483.24 273.97 L484.23 273.92 L485.23 273.88 L486.22 273.85 L487.21 273.82 L488.20 273.80 L489.20 273.78 L490.19 273.76 L491.18 273.74 L492.18 273.73 L493.17 273.72 L494.16 273.70 L495.15 273.69 L496.15 273.68 L497.14 273.66 L498.13 273.65 L499.13 273.64 L500.12 273.63 L501.11 273.62 L502.11 273.61 L503.10 273.60 L504.09 273.60 L505.08 273.60 L506.08 273.60 L507.07 273.61 L508.06 273.62 L509.06 273.63 L510.05 273.64 L511.04 273.66 L512.04 273.68 L513.03 273.70 L514.02 273.73 L515.01 273.75 L516.01 273.78 L517.00 273.80" fill="none" stroke="#ee1c25" stroke-width="1.15" stroke-linejoin="round" stroke-linecap="round"/>
<path d="M319.40 266.40 L320.39 267.33 L321.39 268.26 L322.38 269.18 L323.37 270.10 L324.36 271.00 L325.36 271.88 L326.35 272.74 L327.34 273.58 L328.34 274.40 L329.33 275.18 L330.32 275.94 L331.32 276.66 L332.31 277.34 L333.30 277.98 L334.29 278.58 L335.29 279.14 L336.28 279.65 L337.27 280.12 L338.27 280.56 L339.26 280.96 L340.25 281.35 L341.25 281.70 L342.24 282.05 L343.23 282.37 L344.22 282.69 L345.22 282.99 L346.21 283.28 L347.20 283.55 L348.20 283.81 L349.19 284.05 L350.18 284.27 L351.17 284.47 L352.17 284.66 L353.16 284.83 L354.15 284.98 L355.15 285.11 L356.14 285.23 L357.13 285.34 L358.13 285.43 L359.12 285.51 L360.11 285.58 L361.10 285.65 L362.10 285.72 L363.09 285.80 L364.08 285.89 L365.08 286.01 L366.07 286.15 L367.06 286.32 L368.06 286.50 L369.05 286.70 L370.04 286.91 L371.03 287.12 L372.03 287.34 L373.02 287.55 L374.01 287.76 L375.01 287.96 L376.00 288.15 L376.99 288.31 L377.98 288.46 L378.98 288.60 L379.97 288.71 L380.96 288.81 L381.96 288.90 L382.95 288.97 L383.94 289.04 L384.94 289.09 L385.93 289.14 L386.92 289.17 L387.91 289.21 L388.91 289.23 L389.90 289.25 L390.89 289.26 L391.89 289.27 L392.88 289.26 L393.87 289.25 L394.87 289.23 L395.86 289.19 L396.85 289.15 L397.84 289.09 L398.84 289.01 L399.83 288.93 L400.82 288.82 L401.82 288.71 L402.81 288.58 L403.80 288.43 L404.79 288.27 L405.79 288.10 L406.78 287.91 L407.77 287.71 L408.77 287.49 L409.76 287.26 L410.75 287.01 L411.75 286.75 L412.74 286.48 L413.73 286.20 L414.72 285.91 L415.72 285.62 L416.71 285.34 L417.70 285.05 L418.70 284.78 L419.69 284.51 L420.68 284.25 L421.68 284.01 L422.67 283.78 L423.66 283.56 L424.65 283.35 L425.65 283.14 L426.64 282.92 L427.63 282.70 L428.63 282.46 L429.62 282.22 L430.61 281.97 L431.61 281.72 L432.60 281.46 L433.59 281.21 L434.58 280.96 L435.58 280.71 L436.57 280.47 L437.56 280.23 L438.56 280.00 L439.55 279.79 L440.54 279.57 L441.53 279.37 L442.53 279.17 L443.52 278.97 L444.51 278.77 L445.51 278.58 L446.50 278.39 L447.49 278.20 L448.49 278.00 L449.48 277.80 L450.47 277.61 L451.46 277.40 L452.46 277.20 L453.45 277.01 L454.44 276.81 L455.44 276.62 L456.43 276.44 L457.42 276.26 L458.42 276.10 L459.41 275.94 L460.40 275.80 L461.39 275.67 L462.39 275.55 L463.38 275.45 L464.37 275.35 L465.37 275.26 L466.36 275.18 L467.35 275.10 L468.34 275.02 L469.34 274.95 L470.33 274.87 L471.32 274.80 L472.32 274.72 L473.31 274.64 L474.30 274.55 L475.30 274.47 L476.29 274.39 L477.28 274.30 L478.27 274.22 L479.27 274.14 L480.26 274.07 L481.25 274.00 L482.25 273.93 L483.24 273.87 L484.23 273.81 L485.23 273.76 L486.22 273.72 L487.21 273.68 L488.20 273.64 L489.20 273.61 L490.19 273.58 L491.18 273.56 L492.18 273.54 L493.17 273.52 L494.16 273.50 L495.15 273.49 L496.15 273.48 L497.14 273.47 L498.13 273.46 L499.13 273.46 L500.12 273.46 L501.11 273.46 L502.11 273.46 L503.10 273.47 L504.09 273.48 L505.08 273.49 L506.08 273.50 L507.07 273.52 L508.06 273.54 L509.06 273.56 L510.05 273.59 L511.04 273.61 L512.04 273.64 L513.03 273.67 L514.02 273.70 L515.01 273.73 L516.01 273.77 L517.00 273.80" fill="none" stroke="#2a2adf" stroke-width="1.15" stroke-linejoin="round" stroke-linecap="round"/>
<path d="M319.40 266.40 L320.39 267.54 L321.39 268.67 L322.38 269.78 L323.37 270.85 L324.36 271.86 L325.36 272.82 L326.35 273.69 L327.34 274.48 L328.34 275.20 L329.33 275.84 L330.32 276.43 L331.32 276.96 L332.31 277.46 L333.30 277.92 L334.29 278.36 L335.29 278.79 L336.28 279.21 L337.27 279.62 L338.27 280.02 L339.26 280.42 L340.25 280.81 L341.25 281.20 L342.24 281.57 L343.23 281.95 L344.22 282.32 L345.22 282.69 L346.21 283.04 L347.20 283.39 L348.20 283.73 L349.19 284.05 L350.18 284.36 L351.17 284.66 L352.17 284.94 L353.16 285.20 L354.15 285.44 L355.15 285.65 L356.14 285.85 L357.13 286.01 L358.13 286.15 L359.12 286.26 L360.11 286.34 L361.10 286.40 L362.10 286.45 L363.09 286.51 L364.08 286.57 L365.08 286.66 L366.07 286.77 L367.06 286.92 L368.06 287.09 L369.05 287.27 L370.04 287.47 L371.03 287.68 L372.03 287.89 L373.02 288.10 L374.01 288.31 L375.01 288.51 L376.00 288.70 L376.99 288.87 L377.98 289.02 L378.98 289.15 L379.97 289.26 L380.96 289.36 L381.96 289.44 L382.95 289.51 L383.94 289.56 L384.94 289.60 L385.93 289.63 L386.92 289.65 L387.91 289.65 L388.91 289.64 L389.90 289.63 L390.89 289.60 L391.89 289.56 L392.88 289.51 L393.87 289.45 L394.87 289.38 L395.86 289.31 L396.85 289.22 L397.84 289.12 L398.84 289.02 L399.83 288.90 L400.82 288.78 L401.82 288.65 L402.81 288.50 L403.80 288.35 L404.79 288.18 L405.79 288.00 L406.78 287.81 L407.77 287.61 L408.77 287.39 L409.76 287.16 L410.75 286.91 L411.75 286.65 L412.74 286.38 L413.73 286.10 L414.72 285.81 L415.72 285.53 L416.71 285.24 L417.70 284.95 L418.70 284.68 L419.69 284.41 L420.68 284.15 L421.68 283.91 L422.67 283.68 L423.66 283.46 L424.65 283.25 L425.65 283.04 L426.64 282.82 L427.63 282.60 L428.63 282.36 L429.62 282.11 L430.61 281.86 L431.61 281.61 L432.60 281.36 L433.59 281.10 L434.58 280.85 L435.58 280.61 L436.57 280.36 L437.56 280.13 L438.56 279.91 L439.55 279.69 L440.54 279.48 L441.53 279.28 L442.53 279.08 L443.52 278.89 L444.51 278.70 L445.51 278.50 L446.50 278.31 L447.49 278.11 L448.49 277.91 L449.48 277.70 L450.47 277.49 L451.46 277.27 L452.46 277.05 L453.45 276.84 L454.44 276.63 L455.44 276.43 L456.43 276.23 L457.42 276.05 L458.42 275.88 L459.41 275.73 L460.40 275.60 L461.39 275.49 L462.39 275.40 L463.38 275.32 L464.37 275.26 L465.37 275.20 L466.36 275.15 L467.35 275.11 L468.34 275.06 L469.34 275.02 L470.33 274.96 L471.32 274.90 L472.32 274.82 L473.31 274.74 L474.30 274.64 L475.30 274.55 L476.29 274.44 L477.28 274.34 L478.27 274.23 L479.27 274.12 L480.26 274.02 L481.25 273.93 L482.25 273.84 L483.24 273.76 L484.23 273.69 L485.23 273.63 L486.22 273.58 L487.21 273.54 L488.20 273.50 L489.20 273.47 L490.19 273.45 L491.18 273.43 L492.18 273.42 L493.17 273.41 L494.16 273.40 L495.15 273.40 L496.15 273.40 L497.14 273.40 L498.13 273.40 L499.13 273.41 L500.12 273.41 L501.11 273.42 L502.11 273.44 L503.10 273.45 L504.09 273.46 L505.08 273.48 L506.08 273.50 L507.07 273.52 L508.06 273.55 L509.06 273.57 L510.05 273.60 L511.04 273.62 L512.04 273.65 L513.03 273.68 L514.02 273.71 L515.01 273.74 L516.01 273.77 L517.00 273.80" fill="none" stroke="#f01cf0" stroke-width="1.15" stroke-linejoin="round" stroke-linecap="round"/>
<path d="M424.9 356.1 H443.0" stroke="#111111" stroke-width="1.2"/>
<text transform="translate(446.10 358.80) rotate(0.05)" font-size="8.25" fill="#1a1a1a">MNEI before boiling</text>
<path d="M424.9 366.5 H443.0" stroke="#ee1c25" stroke-width="1.2"/>
<text transform="translate(446.10 369.20) rotate(0.05)" font-size="8.25" fill="#1a1a1a">MNEI after 2 min boiling</text>
<path d="M424.9 376.7 H443.0" stroke="#2a2adf" stroke-width="1.2"/>
<text transform="translate(446.10 379.40) rotate(0.05)" font-size="8.25" fill="#1a1a1a">MNEI after 5 min boiling</text>
<path d="M424.9 386.9 H443.0" stroke="#f01cf0" stroke-width="1.2"/>
<text transform="translate(446.10 389.60) rotate(0.05)" font-size="8.25" fill="#1a1a1a">MNEI after 10 min boiling</text></g>
</svg>
</body></html>
